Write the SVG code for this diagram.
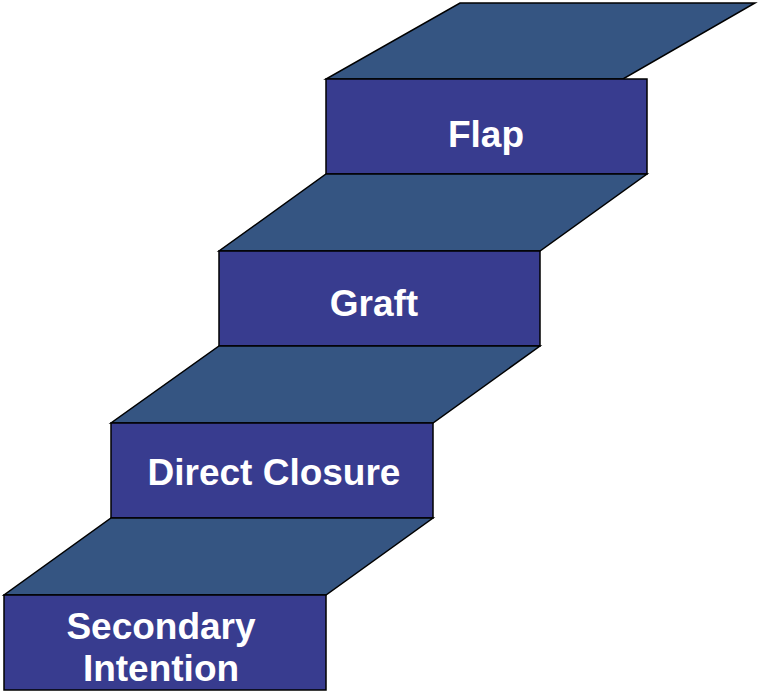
<svg xmlns="http://www.w3.org/2000/svg" width="758" height="692" viewBox="0 0 758 692">
<style>
.p{fill:#355582;stroke:#000;stroke-width:1.5}
.b{fill:#383C8F;stroke:#000;stroke-width:1.5}
.t{fill:#fff;font-family:"Liberation Sans",Arial,sans-serif;font-weight:bold;font-size:37px;text-anchor:middle}
</style>
<g id="step4">
<polygon class="p" points="326,79 623,79 755,3 460,3"/>
<rect class="b" x="326" y="79" width="321" height="95"/>
<text class="t" x="486" y="147">Flap</text>
</g>
<g id="step3">
<polygon class="p" points="219,251 540,251 647,174 326,174"/>
<rect class="b" x="219" y="251" width="321" height="95"/>
<text class="t" x="374" y="316">Graft</text>
</g>
<g id="step2">
<polygon class="p" points="111,423 433,423 540,346 219,346"/>
<rect class="b" x="111" y="423" width="322" height="95"/>
<text class="t" x="274" y="485">Direct Closure</text>
</g>
<g id="step1">
<polygon class="p" points="4,595 326,595 433,518 111,518"/>
<rect class="b" x="4" y="595" width="322" height="95"/>
<text class="t" x="161" y="639">Secondary</text>
<text class="t" x="161" y="681">Intention</text>
</g>
</svg>
